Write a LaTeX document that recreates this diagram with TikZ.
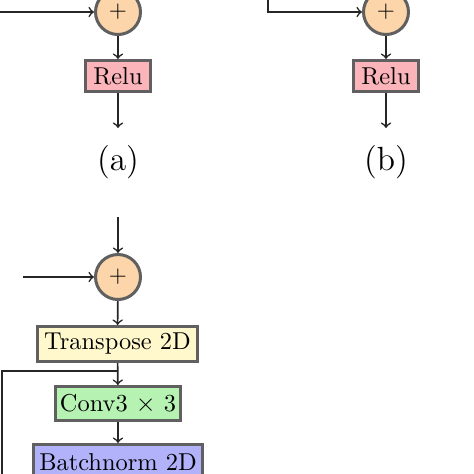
\documentclass[tikz,border=0pt]{standalone}
\usetikzlibrary{positioning}
\definecolor{bordergray}{RGB}{96,96,96}
\definecolor{plusfill}{RGB}{252,214,170}
\definecolor{relufill}{RGB}{250,180,186}
\definecolor{transfill}{RGB}{255,248,204}
\definecolor{convfill}{RGB}{182,242,178}
\definecolor{bnfill}{RGB}{178,178,250}
\begin{document}
\begin{tikzpicture}[x=0.43pt,y=-0.43pt,
  conn/.style={->,line width=0.7pt,black!85},
  plain/.style={line width=0.7pt,black!85},
  sumnode/.style={circle,draw=bordergray,line width=1.3pt,fill=plusfill,minimum size=19.35pt,inner sep=0pt},
  layerbox/.style={rectangle,draw=bordergray,line width=1.3pt,inner sep=0pt,align=center,font=\fontsize{10.5}{12}\selectfont},
  relubox/.style={layerbox,fill=relufill,minimum width=27.95pt,minimum height=13.33pt},
  caption/.style={inner sep=0pt,font=\Large}
]
\useasboundingbox (0,0) rectangle (474,474);
\clip (0,0) rectangle (474,474);

% (a)
\node[sumnode] (plusa) at (118,12) {$+$};
\coordinate (ina) at (-5,12);
\node[relubox] (relua) at (118,76) {Relu};
\coordinate (outa) at (118,128);
\node[caption] (capa) at (118,162) {(a)};
\draw[conn] (ina) -- (plusa);
\draw[conn] (plusa) -- (relua);
\draw[conn] (relua) -- (outa);

% (b)
\node[sumnode] (plusb) at (386,12) {$+$};
\coordinate (inb) at (268,-10);
\node[relubox] (relub) at (386,76) {Relu};
\coordinate (outb) at (386,128);
\node[caption] (capb) at (386,162) {(b)};
\draw[conn] (inb) |- (plusb);
\draw[conn] (plusb) -- (relub);
\draw[conn] (relub) -- (outb);

% (c)
\coordinate (topc) at (118,217);
\node[sumnode] (plusc) at (118,277) {$+$};
\coordinate (leftc) at (23,277);
\node[layerbox,fill=transfill,minimum width=68.8pt,minimum height=15.05pt] (trans) at (117.5,344) {Transpose 2D};
\node[layerbox,fill=convfill,minimum width=53.75pt,minimum height=14.62pt] (conv) at (118,403.5) {Conv3 $\times$ 3};
\node[layerbox,fill=bnfill,minimum width=72.67pt,minimum height=15.05pt] (bn) at (118,462) {Batchnorm 2D};
\coordinate (split) at (118,371);
\coordinate (skip) at (2,490);
\draw[conn] (topc) -- (plusc);
\draw[conn] (leftc) -- (plusc);
\draw[conn] (plusc) -- (trans);
\draw[conn] (trans) -- (conv);
\draw[plain] (split) -| (skip);
\draw[conn] (conv) -- (bn);
\end{tikzpicture}
\end{document}
